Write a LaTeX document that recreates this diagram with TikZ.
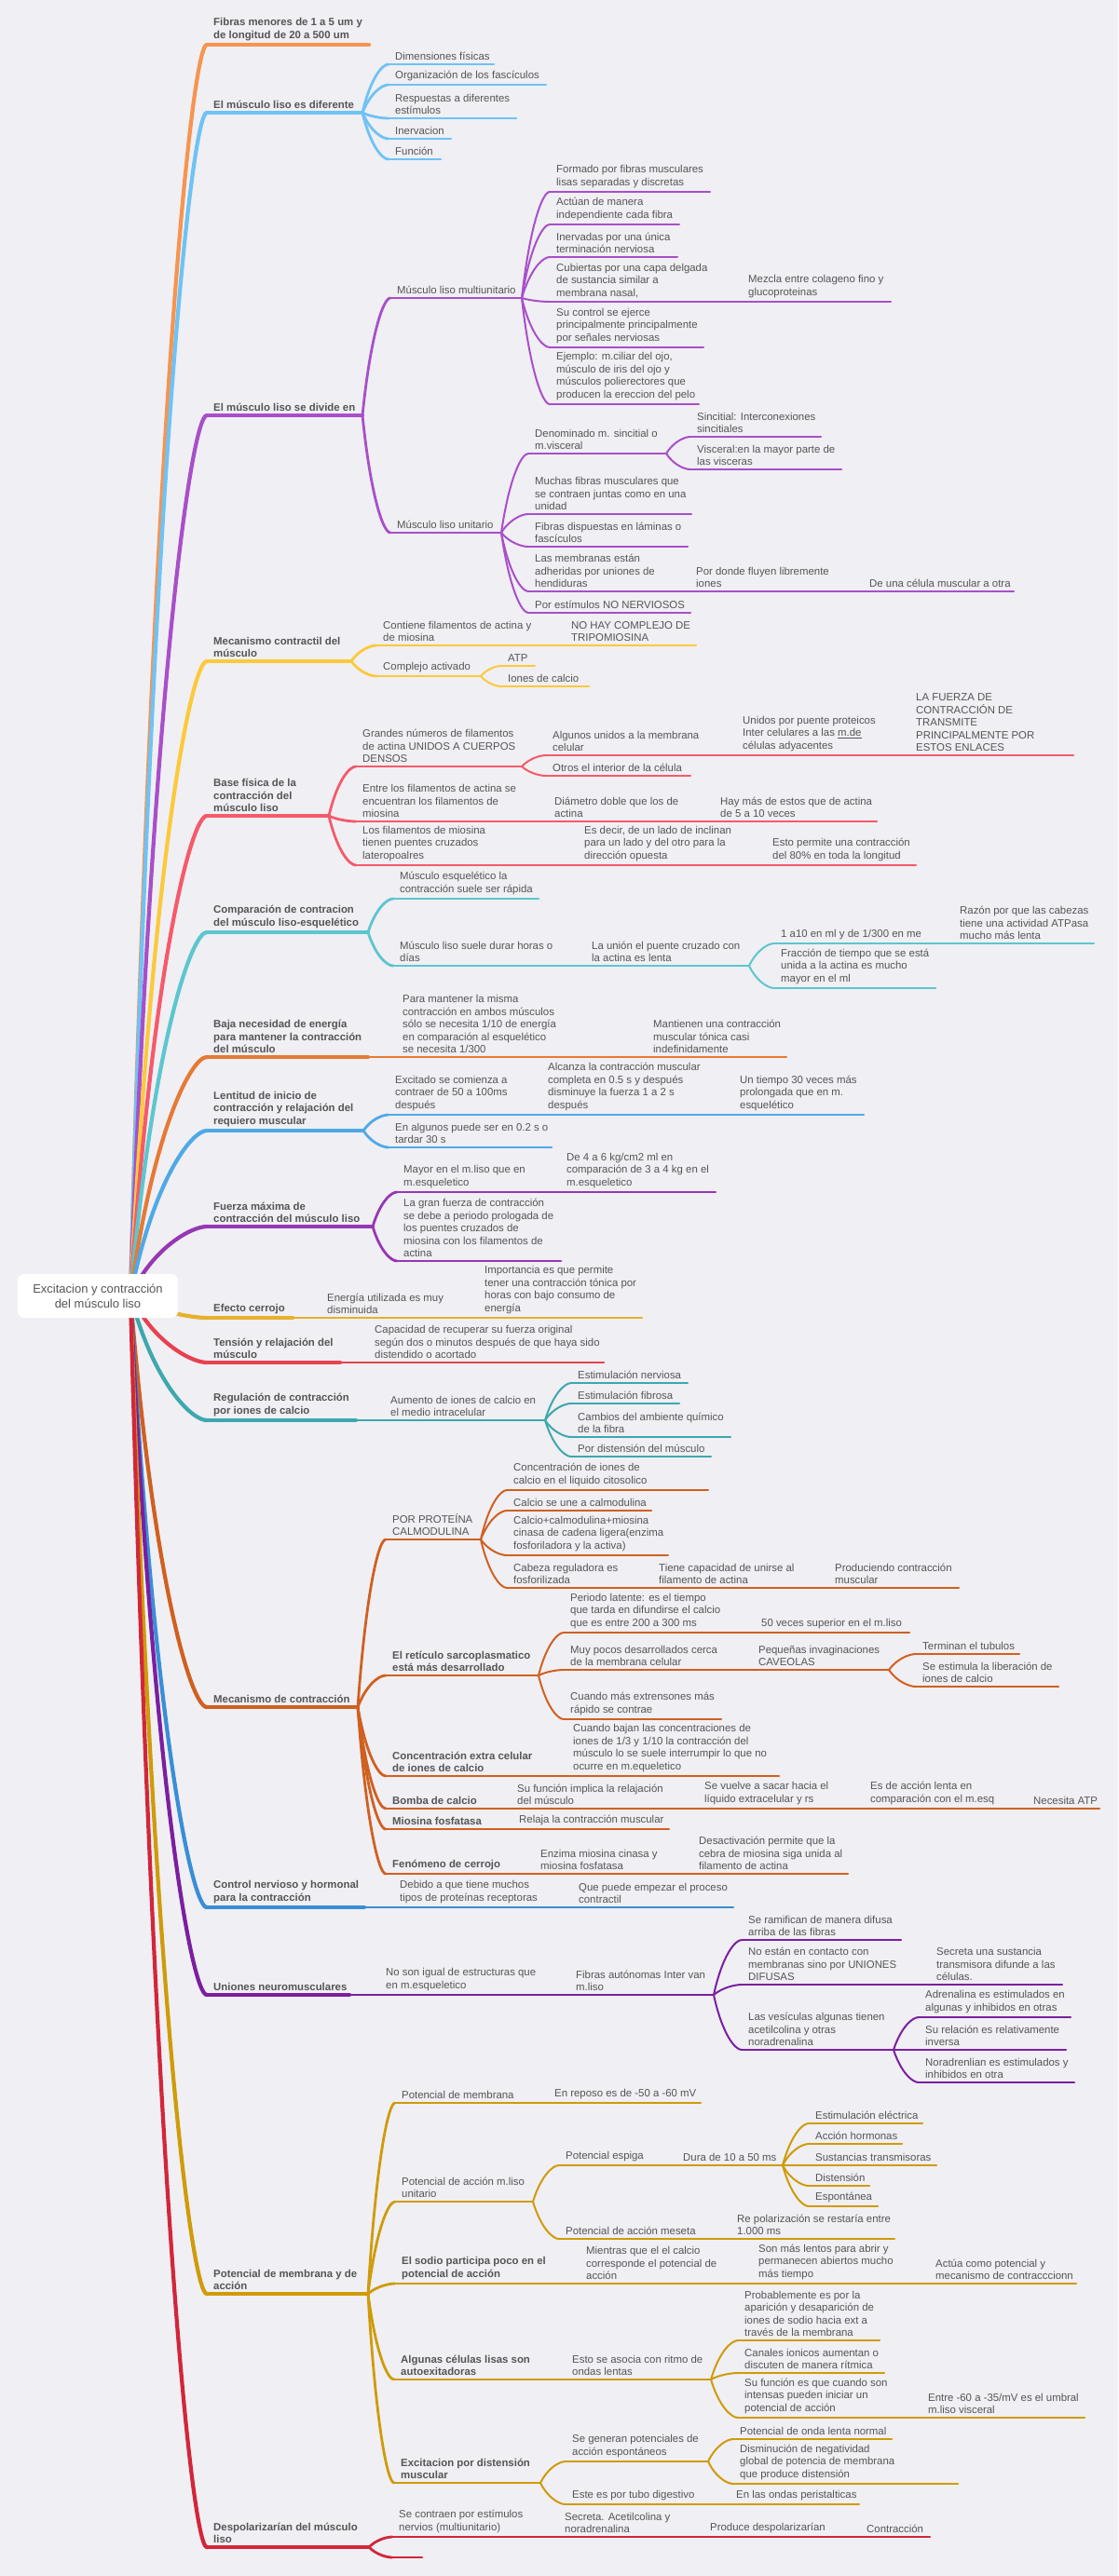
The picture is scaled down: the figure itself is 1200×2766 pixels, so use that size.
\documentclass[tikz,border=0pt]{standalone}
\usepackage{fontspec}
\setmainfont{Liberation Sans}
\usetikzlibrary{calc}
\definecolor{bgc}{HTML}{F0EFF4}
\definecolor{txtc}{HTML}{555555}
\definecolor{k1}{HTML}{F7944F}
\definecolor{k2}{HTML}{6EC3F4}
\definecolor{k3}{HTML}{A84FC9}
\definecolor{k4}{HTML}{FCC93B}
\definecolor{k5}{HTML}{F55A6A}
\definecolor{k6}{HTML}{5CC6CF}
\definecolor{k7}{HTML}{E67A34}
\definecolor{k8}{HTML}{4FA9E6}
\definecolor{k9}{HTML}{9637B4}
\definecolor{k10}{HTML}{E6B12A}
\definecolor{k11}{HTML}{E8414F}
\definecolor{k12}{HTML}{3CA8AE}
\definecolor{k13}{HTML}{D0601F}
\definecolor{k14}{HTML}{3A8ED5}
\definecolor{k15}{HTML}{7B1FA0}
\definecolor{k16}{HTML}{CF9B08}
\definecolor{k17}{HTML}{D1273A}
\tikzset{
 txt/.style={inner sep=0pt, align=left, text=txtc, font=\fontsize{11.4}{13.5}\selectfont},
 btxt/.style={txt, font=\fontsize{11.4}{13.5}\selectfont\bfseries},
 wa/.style={line width=4.2pt, line cap=round},
 wb/.style={line width=2.8pt, line cap=round},
 wc/.style={line width=2pt, line cap=round},
}
\newcommand\nd[6]{%
 \coordinate (#1-s) at (#2,#4); \coordinate (#1-e) at (#3,#4);
 \draw[#5] (#1-s) -- (#1-e);
 \node[txt, anchor=south west] (#1) at (#2+7,#4-4) {#6};}
\newcommand\ndb[6]{%
 \coordinate (#1-s) at (#2,#4); \coordinate (#1-e) at (#3,#4);
 \draw[#5] (#1-s) -- (#1-e);
 \node[btxt, anchor=south west] (#1) at (#2+7,#4-4) {#6};}
\newcommand\ed[3]{%
 \draw[#3] let \p1=(#1-e), \p2=(#2-s) in (\p1) .. controls ({\x1+0.3*(\x2-\x1)},{\y1+0.7*(\y2-\y1)}) and ({\x2-0.25*(\x2-\x1)},\y2) .. (\p2);}
\newcommand\rt[2]{%
 \draw[#2] let \p1=(rootc), \p2=(#1-s) in (\p1) .. controls ({\x1+0.3*(\x2-\x1)},{\y1+0.7*(\y2-\y1)}) and ({\x2-0.2*(\x2-\x1)},\y2) .. (\p2);}
\begin{document}
\begin{tikzpicture}[x=1pt,y=-1pt]
\useasboundingbox (0,0) rectangle (1200,2766);
\fill[bgc] (0,0) rectangle (1200,2766);
\coordinate (rootc) at (140,1391);
% 1
\ndb{m1}{222}{396}{48}{k1,wa}{Fibras menores de 1 a 5 um y\\de longitud de 20 a 500 um}
% 2
\ndb{m2}{222}{389}{121}{k2,wa}{El músculo liso es diferente}
\nd{a1}{417}{530}{69}{k2,wb}{Dimensiones físicas}
\nd{a2}{417}{586}{91}{k2,wb}{Organización de los fascículos}
\nd{a3}{417}{554}{127}{k2,wb}{Respuestas a diferentes\\estímulos}
\nd{a4}{417}{484}{149}{k2,wb}{Inervacion}
\nd{a5}{417}{473}{171}{k2,wb}{Función}
\foreach \c in {a1,a2,a3,a4,a5}{\ed{m2}{\c}{k2,wb}}
% 3
\ndb{m3}{222}{389}{446}{k3,wa}{El músculo liso se divide en}
\nd{b1}{419}{560}{320}{k3,wb}{Músculo liso multiunitario}
\nd{b11}{590}{762}{206}{k3,wc}{Formado por fibras musculares\\lisas separadas y discretas}
\nd{b12}{590}{729}{241}{k3,wc}{Actúan de manera\\independiente cada fibra}
\nd{b13}{590}{727}{276}{k3,wc}{Inervadas por una única\\terminación nerviosa}
\nd{b14}{590}{764}{324}{k3,wc}{Cubiertas por una capa delgada\\de sustancia similar a\\membrana nasal,}
\nd{b141}{796}{956}{324}{k3,wc}{Mezcla entre colageno fino y\\glucoproteinas}
\nd{b15}{590}{755}{373}{k3,wc}{Su control se ejerce\\principalmente principalmente\\por señales nerviosas}
\nd{b16}{590}{750}{434}{k3,wc}{Ejemplo: m.ciliar del ojo,\\músculo de iris del ojo y\\músculos polierectores que\\producen la ereccion del pelo}
\nd{b2}{419}{538}{572}{k3,wb}{Músculo liso unitario}
\nd{b21}{567}{715}{487}{k3,wc}{Denominado m. sincitial o\\m.visceral}
\nd{b211}{741}{881}{469}{k3,wc}{Sincitial: Interconexiones\\sincitiales}
\nd{b212}{741}{903}{504}{k3,wc}{Visceral:en la mayor parte de\\las visceras}
\nd{b22}{567}{742}{552}{k3,wc}{Muchas fibras musculares que\\se contraen juntas como en una\\unidad}
\nd{b23}{567}{738}{587}{k3,wc}{Fibras dispuestas en láminas o\\fascículos}
\nd{b24}{567}{710}{635}{k3,wc}{Las membranas están\\adheridas por uniones de\\hendiduras}
\nd{b241}{740}{895}{635}{k3,wc}{Por donde fluyen libremente\\iones}
\nd{b242}{926}{1088}{635}{k3,wc}{De una célula muscular a otra}
\nd{b25}{567}{741}{658}{k3,wc}{Por estímulos NO NERVIOSOS}
\ed{m3}{b1}{k3,wb}\ed{m3}{b2}{k3,wb}
\foreach \c in {b11,b12,b13,b14,b15,b16}{\ed{b1}{\c}{k3,wc}}
\ed{b14}{b141}{k3,wc}
\foreach \c in {b21,b22,b23,b24,b25}{\ed{b2}{\c}{k3,wc}}
\ed{b21}{b211}{k3,wc}\ed{b21}{b212}{k3,wc}\ed{b24}{b241}{k3,wc}\ed{b241}{b242}{k3,wc}
% 4
\ndb{m4}{222}{377}{710}{k4,wa}{Mecanismo contractil del\\músculo}
\nd{d1}{404}{576}{693}{k4,wb}{Contiene filamentos de actina y\\de miosina}
\nd{d11}{606}{747}{693}{k4,wc}{NO HAY COMPLEJO DE\\TRIPOMIOSINA}
\nd{d2}{404}{516}{726}{k4,wb}{Complejo activado}
\nd{d21}{538}{574}{715}{k4,wc}{ATP}
\nd{d22}{538}{632}{737}{k4,wc}{Iones de calcio}
\ed{m4}{d1}{k4,wb}\ed{m4}{d2}{k4,wb}\ed{d1}{d11}{k4,wc}\ed{d2}{d21}{k4,wc}\ed{d2}{d22}{k4,wc}
% 5
\ndb{m5}{222}{353}{876}{k5,wa}{Base física de la\\contracción del\\músculo liso}
\nd{e1}{382}{560}{823}{k5,wb}{Grandes números de filamentos\\de actina UNIDOS A CUERPOS\\DENSOS}
\nd{e11}{586}{758}{811}{k5,wc}{Algunos unidos a la membrana\\celular}
\nd{e111}{790}{945}{811}{k5,wc}{Unidos por puente proteicos\\Inter celulares a las \underline{m.de}\\células adyacentes}
\nd{e112}{976}{1152}{811}{k5,wc}{LA FUERZA DE\\CONTRACCIÓN DE\\TRANSMITE\\PRINCIPALMENTE POR\\ESTOS ENLACES}
\nd{e12}{586}{741}{833}{k5,wc}{Otros el interior de la célula}
\nd{e2}{382}{557}{882}{k5,wb}{Entre los filamentos de actina se\\encuentran los filamentos de\\miosina}
\nd{e21}{588}{734}{882}{k5,wc}{Diámetro doble que los de\\actina}
\nd{e22}{766}{941}{882}{k5,wc}{Hay más de estos que de actina\\de 5 a 10 veces}
\nd{e3}{382}{590}{929}{k5,wb}{Los filamentos de miosina\\tienen puentes cruzados\\lateropoalres}
\nd{e31}{620}{791}{929}{k5,wc}{Es decir, de un lado de inclinan\\para un lado y del otro para la\\dirección opuesta}
\nd{e32}{822}{983}{929}{k5,wc}{Esto permite una contracción\\del 80\% en toda la longitud}
\ed{m5}{e1}{k5,wb}\ed{m5}{e2}{k5,wb}\ed{m5}{e3}{k5,wb}
\ed{e1}{e11}{k5,wc}\ed{e1}{e12}{k5,wc}\ed{e11}{e111}{k5,wc}\ed{e111}{e112}{k5,wc}
\ed{e2}{e21}{k5,wc}\ed{e21}{e22}{k5,wc}\ed{e3}{e31}{k5,wc}\ed{e31}{e32}{k5,wc}
% 6
\ndb{m6}{222}{395}{1001}{k6,wa}{Comparación de contracion\\del músculo liso-esquelético}
\nd{f1}{422}{578}{965}{k6,wb}{Músculo esquelético  la\\contracción suele ser rápida}
\nd{f2}{422}{597}{1037}{k6,wb}{Músculo liso suele durar horas o\\días}
\nd{f21}{628}{804}{1037}{k6,wc}{La unión el puente cruzado con\\la actina es lenta}
\nd{f211}{831}{993}{1013}{k6,wc}{1 a10 en ml y de 1/300 en me}
\nd{f212}{1023}{1174}{1013}{k6,wc}{Razón por que las cabezas\\tiene una actividad ATPasa\\mucho más lenta}
\nd{f22}{831}{1004}{1061}{k6,wc}{Fracción de tiempo que se está\\unida a la actina es mucho\\mayor en el ml}
\ed{m6}{f1}{k6,wb}\ed{m6}{f2}{k6,wb}\ed{f2}{f21}{k6,wc}\ed{f21}{f211}{k6,wc}\ed{f211}{f212}{k6,wc}\ed{f21}{f22}{k6,wc}
% 7
\ndb{m7}{222}{395}{1135}{k7,wa}{Baja necesidad de energía\\para mantener la contracción\\del músculo}
\nd{g1}{425}{600}{1135}{k7,wb}{Para mantener la misma\\contracción en ambos músculos\\sólo se necesita 1/10 de energía\\en comparación al esquelético\\se necesita 1/300}
\nd{g2}{694}{844}{1135}{k7,wc}{Mantienen una contracción\\muscular tónica casi\\indefinidamente}
\ed{m7}{g1}{k7,wb}\ed{g1}{g2}{k7,wc}
% 8
\ndb{m8}{222}{390}{1214}{k8,wa}{Lentitud de inicio de\\contracción y relajación del\\requiero muscular}
\nd{h1}{417}{549}{1197}{k8,wb}{Excitado se comienza a\\contraer de 50 a 100ms\\después}
\nd{h11}{581}{757}{1197}{k8,wc}{Alcanza la contracción muscular\\completa en 0.5 s y después\\disminuye la fuerza 1 a 2 s\\después}
\nd{h12}{787}{927}{1197}{k8,wc}{Un tiempo 30 veces más\\prolongada que en m.\\esquelético}
\nd{h2}{417}{592}{1232}{k8,wb}{En algunos puede ser en 0.2 s o\\tardar 30 s}
\ed{m8}{h1}{k8,wb}\ed{m8}{h2}{k8,wb}\ed{h1}{h11}{k8,wc}\ed{h11}{h12}{k8,wc}
% 9
\ndb{m9}{222}{400}{1317}{k9,wa}{Fuerza máxima de\\contracción del músculo liso}
\nd{i1}{426}{572}{1280}{k9,wb}{Mayor en el m.liso que en\\m.esqueletico}
\nd{i11}{601}{768}{1280}{k9,wc}{De 4 a 6 kg/cm2 ml en\\comparación de 3 a 4 kg en el\\m.esqueletico}
\nd{i2}{426}{602}{1354}{k9,wb}{La gran fuerza de contracción\\se debe a periodo prologada de\\los puentes cruzados de\\miosina con los filamentos de\\actina}
\ed{m9}{i1}{k9,wb}\ed{m9}{i2}{k9,wb}\ed{i1}{i11}{k9,wc}
% 10
\ndb{m10}{222}{314}{1415}{k10,wa}{Efecto cerrojo}
\nd{j1}{344}{483}{1415}{k10,wb}{Energía utilizada es muy\\disminuida}
\nd{j2}{513}{689}{1415}{k10,wc}{Importancia es que permite\\tener una contracción tónica por\\horas  con bajo consumo de\\energía}
\ed{m10}{j1}{k10,wb}\ed{j1}{j2}{k10,wc}
% 11
\ndb{m11}{222}{365}{1463}{k11,wa}{Tensión y relajación del\\músculo}
\nd{k1}{395}{648}{1463}{k11,wb}{Capacidad de recuperar su fuerza original\\según dos o minutos después de que haya sido\\distendido o acortado}
\ed{m11}{k1}{k11,wb}
% 12
\ndb{m12}{222}{382}{1525}{k12,wa}{Regulación de contracción\\por iones de calcio}
\nd{l1}{412}{585}{1525}{k12,wb}{Aumento de iones de calcio en\\el medio intracelular}
\nd{l11}{613}{738}{1485}{k12,wc}{Estimulación nerviosa}
\nd{l12}{613}{729}{1507}{k12,wc}{Estimulación fibrosa}
\nd{l13}{613}{784}{1543}{k12,wc}{Cambios del ambiente químico\\de la fibra}
\nd{l14}{613}{763}{1564}{k12,wc}{Por distensión del músculo}
\ed{m12}{l1}{k12,wb}
\foreach \c in {l11,l12,l13,l14}{\ed{l1}{\c}{k12,wc}}
% 13
\ndb{m13}{222}{384}{1833}{k13,wa}{Mecanismo de contracción}
\nd{n1}{414}{516}{1653}{k13,wb}{POR PROTEÍNA\\CALMODULINA}
\nd{n11}{544}{760}{1600}{k13,wc}{Concentración de iones de\\calcio en el liquido citosolico}
\nd{n12}{544}{699}{1622}{k13,wc}{Calcio se une a calmodulina}
\nd{n13}{544}{717}{1670}{k13,wc}{Calcio+calmodulina+miosina\\cinasa de cadena ligera(enzima\\fosforiladora y la activa)}
\nd{n14}{544}{669}{1705}{k13,wc}{Cabeza reguladora es\\fosforilizada}
\nd{n141}{700}{859}{1705}{k13,wc}{Tiene capacidad de unirse al\\filamento de actina}
\nd{n142}{889}{1029}{1705}{k13,wc}{Produciendo contracción\\muscular}
\ndb{n2}{414}{578}{1799}{k13,wb}{El retículo sarcoplasmatico\\está más desarrollado}
\nd{n21}{605}{779}{1753}{k13,wc}{Periodo latente: es el tiempo\\que tarda en difundirse el calcio\\que es entre 200 a 300 ms}
\nd{n211}{810}{976}{1753}{k13,wc}{50 veces superior en el m.liso}
\nd{n22}{605}{777}{1793}{k13,wc}{Muy pocos desarrollados cerca\\de la membrana celular}
\nd{n221}{807}{954}{1793}{k13,wc}{Pequeñas invaginaciones\\CAVEOLAS}
\nd{n2211}{983}{1094}{1776}{k13,wc}{Terminan el tubulos}
\nd{n2212}{983}{1136}{1811}{k13,wc}{Se estimula la liberación de\\iones de calcio}
\nd{n23}{605}{774}{1846}{k13,wc}{Cuando más extrensones más\\rápido se contrae}
\ndb{n3}{414}{576}{1907}{k13,wb}{Concentración extra celular\\de iones de calcio}
\nd{n31}{608}{836}{1907}{k13,wc}{Cuando bajan las concentraciones de\\iones de 1/3  y 1/10 la contracción  del\\músculo lo se suele interrumpir lo que no\\ocurre en m.equeletico}
\ndb{n4}{414}{518}{1942}{k13,wb}{Bomba de calcio}
\nd{n41}{548}{718}{1942}{k13,wc}{Su función implica la relajación\\del músculo}
\nd{n42}{749}{896}{1942}{k13,wc}{Se vuelve a sacar hacia el\\líquido extracelular y rs}
\nd{n43}{927}{1072}{1942}{k13,wc}{Es de acción lenta en\\comparación con el m.esq}
\nd{n44}{1102}{1180}{1942}{k13,wc}{Necesita ATP}
\ndb{n5}{414}{519}{1964}{k13,wb}{Miosina fosfatasa}
\nd{n51}{550}{718}{1964}{k13,wc}{Relaja la contracción muscular}
\ndb{n6}{414}{542}{2012}{k13,wb}{Fenómeno de cerrojo}
\nd{n61}{573}{712}{2012}{k13,wc}{Enzima miosina cinasa y\\miosina fosfatasa}
\nd{n62}{743}{910}{2012}{k13,wc}{Desactivación permite que la\\cebra de miosina siga unida al\\filamento de actina}
\foreach \c in {n1,n2,n3,n4,n5,n6}{\ed{m13}{\c}{k13,wb}}
\foreach \c in {n11,n12,n13,n14}{\ed{n1}{\c}{k13,wc}}
\ed{n14}{n141}{k13,wc}\ed{n141}{n142}{k13,wc}
\foreach \c in {n21,n22,n23}{\ed{n2}{\c}{k13,wc}}
\ed{n21}{n211}{k13,wc}\ed{n22}{n221}{k13,wc}\ed{n221}{n2211}{k13,wc}\ed{n221}{n2212}{k13,wc}
\ed{n3}{n31}{k13,wc}\ed{n4}{n41}{k13,wc}\ed{n41}{n42}{k13,wc}\ed{n42}{n43}{k13,wc}\ed{n43}{n44}{k13,wc}
\ed{n5}{n51}{k13,wc}\ed{n6}{n61}{k13,wc}\ed{n61}{n62}{k13,wc}
% 14
\ndb{m14}{222}{391}{2048}{k14,wa}{Control nervioso y hormonal\\para la contracción}
\nd{o1}{422}{583}{2048}{k14,wb}{Debido a que tiene muchos\\tipos de proteínas receptoras}
\nd{o2}{614}{787}{2048}{k14,wc}{Que puede empezar el proceso\\contractil}
\ed{m14}{o1}{k14,wb}\ed{o1}{o2}{k14,wc}
% 15
\ndb{m15}{222}{375}{2142}{k15,wa}{Uniones neuromusculares}
\nd{p1}{407}{581}{2142}{k15,wb}{No son igual de estructuras que\\en m.esqueletico}
\nd{p2}{611}{766}{2142}{k15,wc}{Fibras autónomas Inter van\\m.liso}
\nd{p21}{796}{967}{2083}{k15,wc}{Se ramifican  de manera difusa\\arriba de las fibras}
\nd{p22}{796}{968}{2131}{k15,wc}{No están en contacto con\\membranas sino por UNIONES\\DIFUSAS}
\nd{p221}{998}{1140}{2131}{k15,wc}{Secreta una sustancia\\transmisora difunde a las\\células.}
\nd{p23}{796}{959}{2201}{k15,wc}{Las vesículas algunas tienen\\acetilcolina y otras\\noradrenalina}
\nd{p231}{986}{1149}{2166}{k15,wc}{Adrenalina es estimulados en\\algunas y inhibidos en otras}
\nd{p232}{986}{1144}{2201}{k15,wc}{Su relación es relativamente\\inversa}
\nd{p233}{986}{1153}{2236}{k15,wc}{Noradrenlian es estimulados y\\inhibidos en otra}
\ed{m15}{p1}{k15,wb}\ed{p1}{p2}{k15,wc}
\foreach \c in {p21,p22,p23}{\ed{p2}{\c}{k15,wc}}
\ed{p22}{p221}{k15,wc}
\foreach \c in {p231,p232,p233}{\ed{p23}{\c}{k15,wc}}
% 16
\ndb{m16}{222}{395}{2463}{k16,wa}{Potencial  de membrana y de\\acción}
\nd{q1}{424}{558}{2258}{k16,wb}{Potencial de membrana}
\nd{q11}{588}{752}{2258}{k16,wc}{En reposo es de -50 a -60 mV}
\nd{q2}{424}{572}{2364}{k16,wb}{Potencial de acción m.liso\\unitario}
\nd{q21}{600}{694}{2325}{k16,wc}{Potencial espiga}
\nd{q211}{726}{840}{2325}{k16,wc}{Dura de 10 a 50 ms}
\nd{qa}{868}{990}{2280}{k16,wc}{Estimulación eléctrica}
\nd{qb}{868}{968}{2302}{k16,wc}{Acción hormonas}
\nd{qc}{868}{1005}{2325}{k16,wc}{Sustancias transmisoras}
\nd{qd}{868}{933}{2347}{k16,wc}{Distensión}
\nd{qe}{868}{942}{2369}{k16,wc}{Espontánea}
\nd{q22}{600}{754}{2404}{k16,wc}{Potencial de acción meseta}
\nd{q221}{784}{960}{2404}{k16,wc}{Re polarización se restaría entre\\1.000 ms}
\ndb{q3}{424}{592}{2452}{k16,wb}{El sodio participa poco en el\\potencial de acción}
\nd{q31}{622}{777}{2452}{k16,wc}{ Mientras que el el calcio\\corresponde el potencial de\\acción}
\nd{q32}{807}{965}{2452}{k16,wc}{Son más lentos para abrir y\\permanecen abiertos mucho\\más tiempo}
\nd{q33}{997}{1155}{2452}{k16,wc}{Actúa como potencial y\\mecanismo de contracccionn}
\ndb{q4}{423}{576}{2555}{k16,wb}{Algunas células lisas son\\autoexitadoras}
\nd{q41}{607}{763}{2555}{k16,wc}{Esto se asocia con ritmo de\\ondas lentas}
\nd{q411}{792}{944}{2513}{k16,wc}{Probablemente es por la\\aparición y desaparición de\\iones de sodio hacia ext a\\través de la membrana}
\nd{q412}{792}{949}{2548}{k16,wc}{Canales ionicos aumentan o\\discuten de manera rítmica}
\nd{q413}{792}{958}{2596}{k16,wc}{Su función es que cuando son\\intensas pueden iniciar un\\potencial de acción}
\nd{q4131}{989}{1164}{2596}{k16,wc}{Entre -60 a -35/mV es el umbral\\m.liso visceral}
\ndb{q5}{423}{580}{2666}{k16,wb}{Excitacion por distensión\\muscular}
\nd{q51}{607}{760}{2643}{k16,wc}{Se generan potenciales de\\acción espontáneos}
\nd{q511}{787}{957}{2619}{k16,wc}{Potencial de onda lenta normal}
\nd{q512}{787}{1028}{2667}{k16,wc}{Disminución de negatividad\\global de potencia de membrana\\que produce distensión}
\nd{q52}{607}{752}{2689}{k16,wc}{Este es por tubo digestivo}
\nd{q521}{783}{922}{2689}{k16,wc}{En las ondas peristalticas}
\foreach \c in {q1,q2,q3,q4,q5}{\ed{m16}{\c}{k16,wb}}
\ed{q1}{q11}{k16,wc}\ed{q2}{q21}{k16,wc}\ed{q2}{q22}{k16,wc}\ed{q21}{q211}{k16,wc}
\foreach \c in {qa,qb,qc,qd,qe}{\ed{q211}{\c}{k16,wc}}
\ed{q22}{q221}{k16,wc}\ed{q3}{q31}{k16,wc}\ed{q31}{q32}{k16,wc}\ed{q32}{q33}{k16,wc}
\ed{q4}{q41}{k16,wc}
\foreach \c in {q411,q412,q413}{\ed{q41}{\c}{k16,wc}}
\ed{q413}{q4131}{k16,wc}
\ed{q5}{q51}{k16,wc}\ed{q5}{q52}{k16,wc}\ed{q51}{q511}{k16,wc}\ed{q51}{q512}{k16,wc}\ed{q52}{q521}{k16,wc}
% 17
\ndb{m17}{222}{396}{2735}{k17,wa}{Despolarizarían del músculo\\liso}
\nd{r1}{421}{568}{2724}{k17,wb}{Se contraen por estímulos\\nervios (multiunitario)}
\nd{r11}{599}{724}{2724}{k17,wc}{Secreta. Acetilcolina y\\noradrenalina}
\nd{r12}{755}{892}{2724}{k17,wc}{Produce despolarizarían}
\nd{r13}{923}{998}{2724}{k17,wc}{Contracción}
\nd{r2}{421}{453}{2746}{k17,wb}{}
\ed{m17}{r1}{k17,wb}\ed{m17}{r2}{k17,wb}\ed{r1}{r11}{k17,wc}\ed{r11}{r12}{k17,wc}\ed{r12}{r13}{k17,wc}
% root edges
\foreach \m/\c in {m1/k1,m2/k2,m3/k3,m4/k4,m5/k5,m6/k6,m7/k7,m8/k8,m9/k9,m10/k10,m11/k11,m12/k12,m13/k13,m14/k14,m15/k15,m16/k16,m17/k17}{\rt{\m}{\c,wa}}
\node[fill=white, rounded corners=7pt, minimum width=172pt, minimum height=47pt, inner sep=0pt, align=center, text=txtc, font=\fontsize{13}{16}\selectfont] (root) at (105,1391.5) {Excitacion y contracción\\del músculo liso};
\end{tikzpicture}
\end{document}
